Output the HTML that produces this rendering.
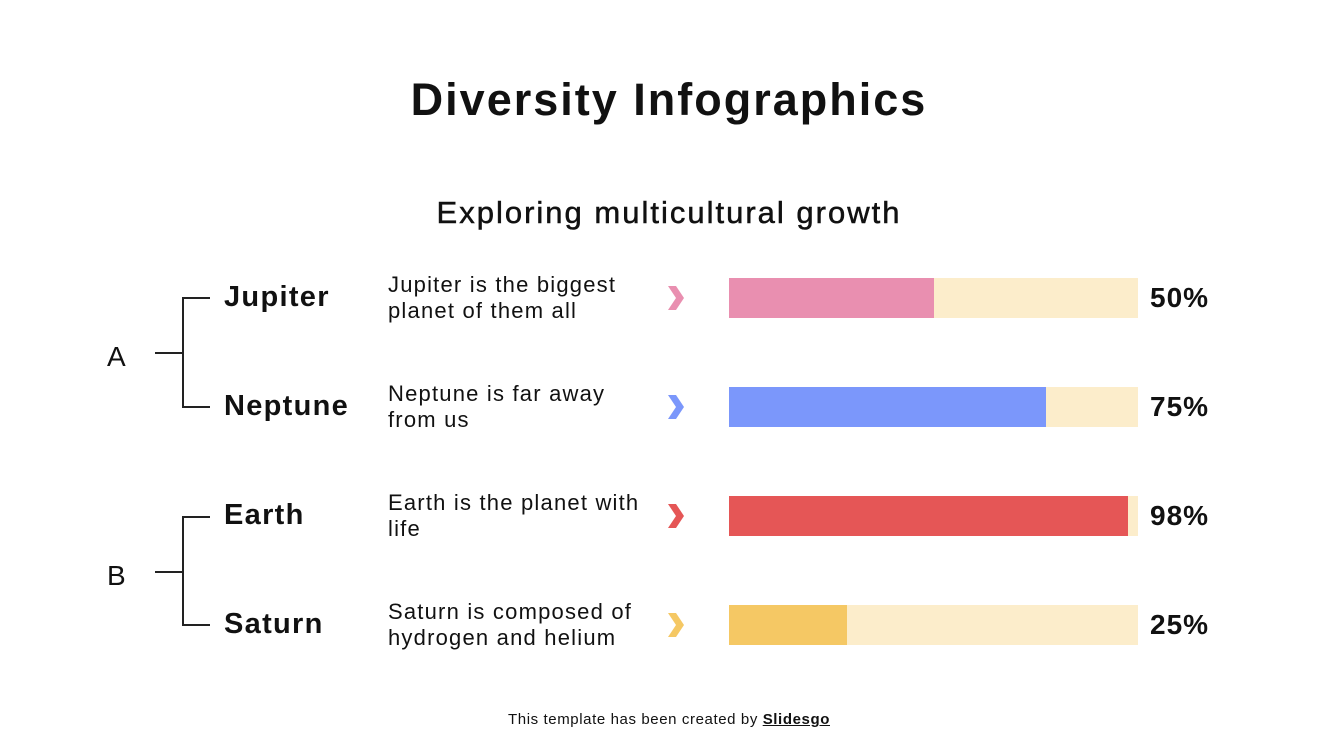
<!DOCTYPE html>
<html><head><meta charset="utf-8"><style>
body{margin:0;width:1338px;height:753px;background:#fff;position:relative;overflow:hidden;font-family:"Liberation Sans",sans-serif;color:#111}
.a{position:absolute;white-space:nowrap}
.t{left:0;width:1338px;text-align:center}
.name{left:224px;font-size:29px;font-weight:bold;letter-spacing:1.3px}
.desc{left:388px;font-size:22px;line-height:26px;letter-spacing:1.2px}
.bar{position:absolute;left:729px;width:409px;height:40px;background:#fcedcb}
.bar div{height:100%}
.pct{left:1150px;font-size:28px;font-weight:bold;letter-spacing:1px}
.chev{position:absolute;left:666px}
.ln{position:absolute;background:#222}
.lt{font-size:28px;left:107px}
</style></head><body>
<div class="a t" style="top:74px;font-size:45px;font-weight:bold;letter-spacing:2px">Diversity Infographics</div>
<div class="a t" style="top:195px;font-size:31px;letter-spacing:2px;-webkit-text-stroke:0.5px #111">Exploring multicultural growth</div>

<div class="a lt" style="top:341px">A</div>
<div class="a lt" style="top:560px">B</div>
<div class="ln" style="left:155px;top:352px;width:28px;height:2px"></div>
<div class="ln" style="left:182px;top:297px;width:2px;height:111px"></div>
<div class="ln" style="left:182px;top:297px;width:28px;height:2px"></div>
<div class="ln" style="left:182px;top:406px;width:28px;height:2px"></div>
<div class="ln" style="left:155px;top:571px;width:28px;height:2px"></div>
<div class="ln" style="left:182px;top:516px;width:2px;height:110px"></div>
<div class="ln" style="left:182px;top:516px;width:28px;height:2px"></div>
<div class="ln" style="left:182px;top:624px;width:28px;height:2px"></div>

<div class="a name" style="top:281px">Jupiter</div>
<div class="a name" style="top:390px">Neptune</div>
<div class="a name" style="top:499px">Earth</div>
<div class="a name" style="top:608px">Saturn</div>

<div class="a desc" style="top:272px">Jupiter is the biggest<br>planet of them all</div>
<div class="a desc" style="top:381px">Neptune is far away<br>from us</div>
<div class="a desc" style="top:490px">Earth is the planet with<br>life</div>
<div class="a desc" style="top:599px">Saturn is composed of<br>hydrogen and helium</div>

<svg class="chev" style="top:286px" width="20" height="24"><path d="M2 0H10L18 12L10 24H2L10 12Z" fill="#e98fb0"/></svg>
<svg class="chev" style="top:395px" width="20" height="24"><path d="M2 0H10L18 12L10 24H2L10 12Z" fill="#7b97fb"/></svg>
<svg class="chev" style="top:504px" width="20" height="24"><path d="M2 0H10L18 12L10 24H2L10 12Z" fill="#e55656"/></svg>
<svg class="chev" style="top:613px" width="20" height="24"><path d="M2 0H10L18 12L10 24H2L10 12Z" fill="#f5c864"/></svg>

<div class="bar" style="top:278px"><div style="width:205px;background:#e98fb0"></div></div>
<div class="bar" style="top:387px"><div style="width:317px;background:#7b97fb"></div></div>
<div class="bar" style="top:496px"><div style="width:399px;background:#e55656"></div></div>
<div class="bar" style="top:605px"><div style="width:118px;background:#f5c864"></div></div>

<div class="a pct" style="top:282px">50%</div>
<div class="a pct" style="top:391px">75%</div>
<div class="a pct" style="top:500px">98%</div>
<div class="a pct" style="top:609px">25%</div>

<div class="a t" style="top:711px;font-size:15px;letter-spacing:0.6px">This template has been created by <b><u>Slidesgo</u></b></div>
</body></html>
